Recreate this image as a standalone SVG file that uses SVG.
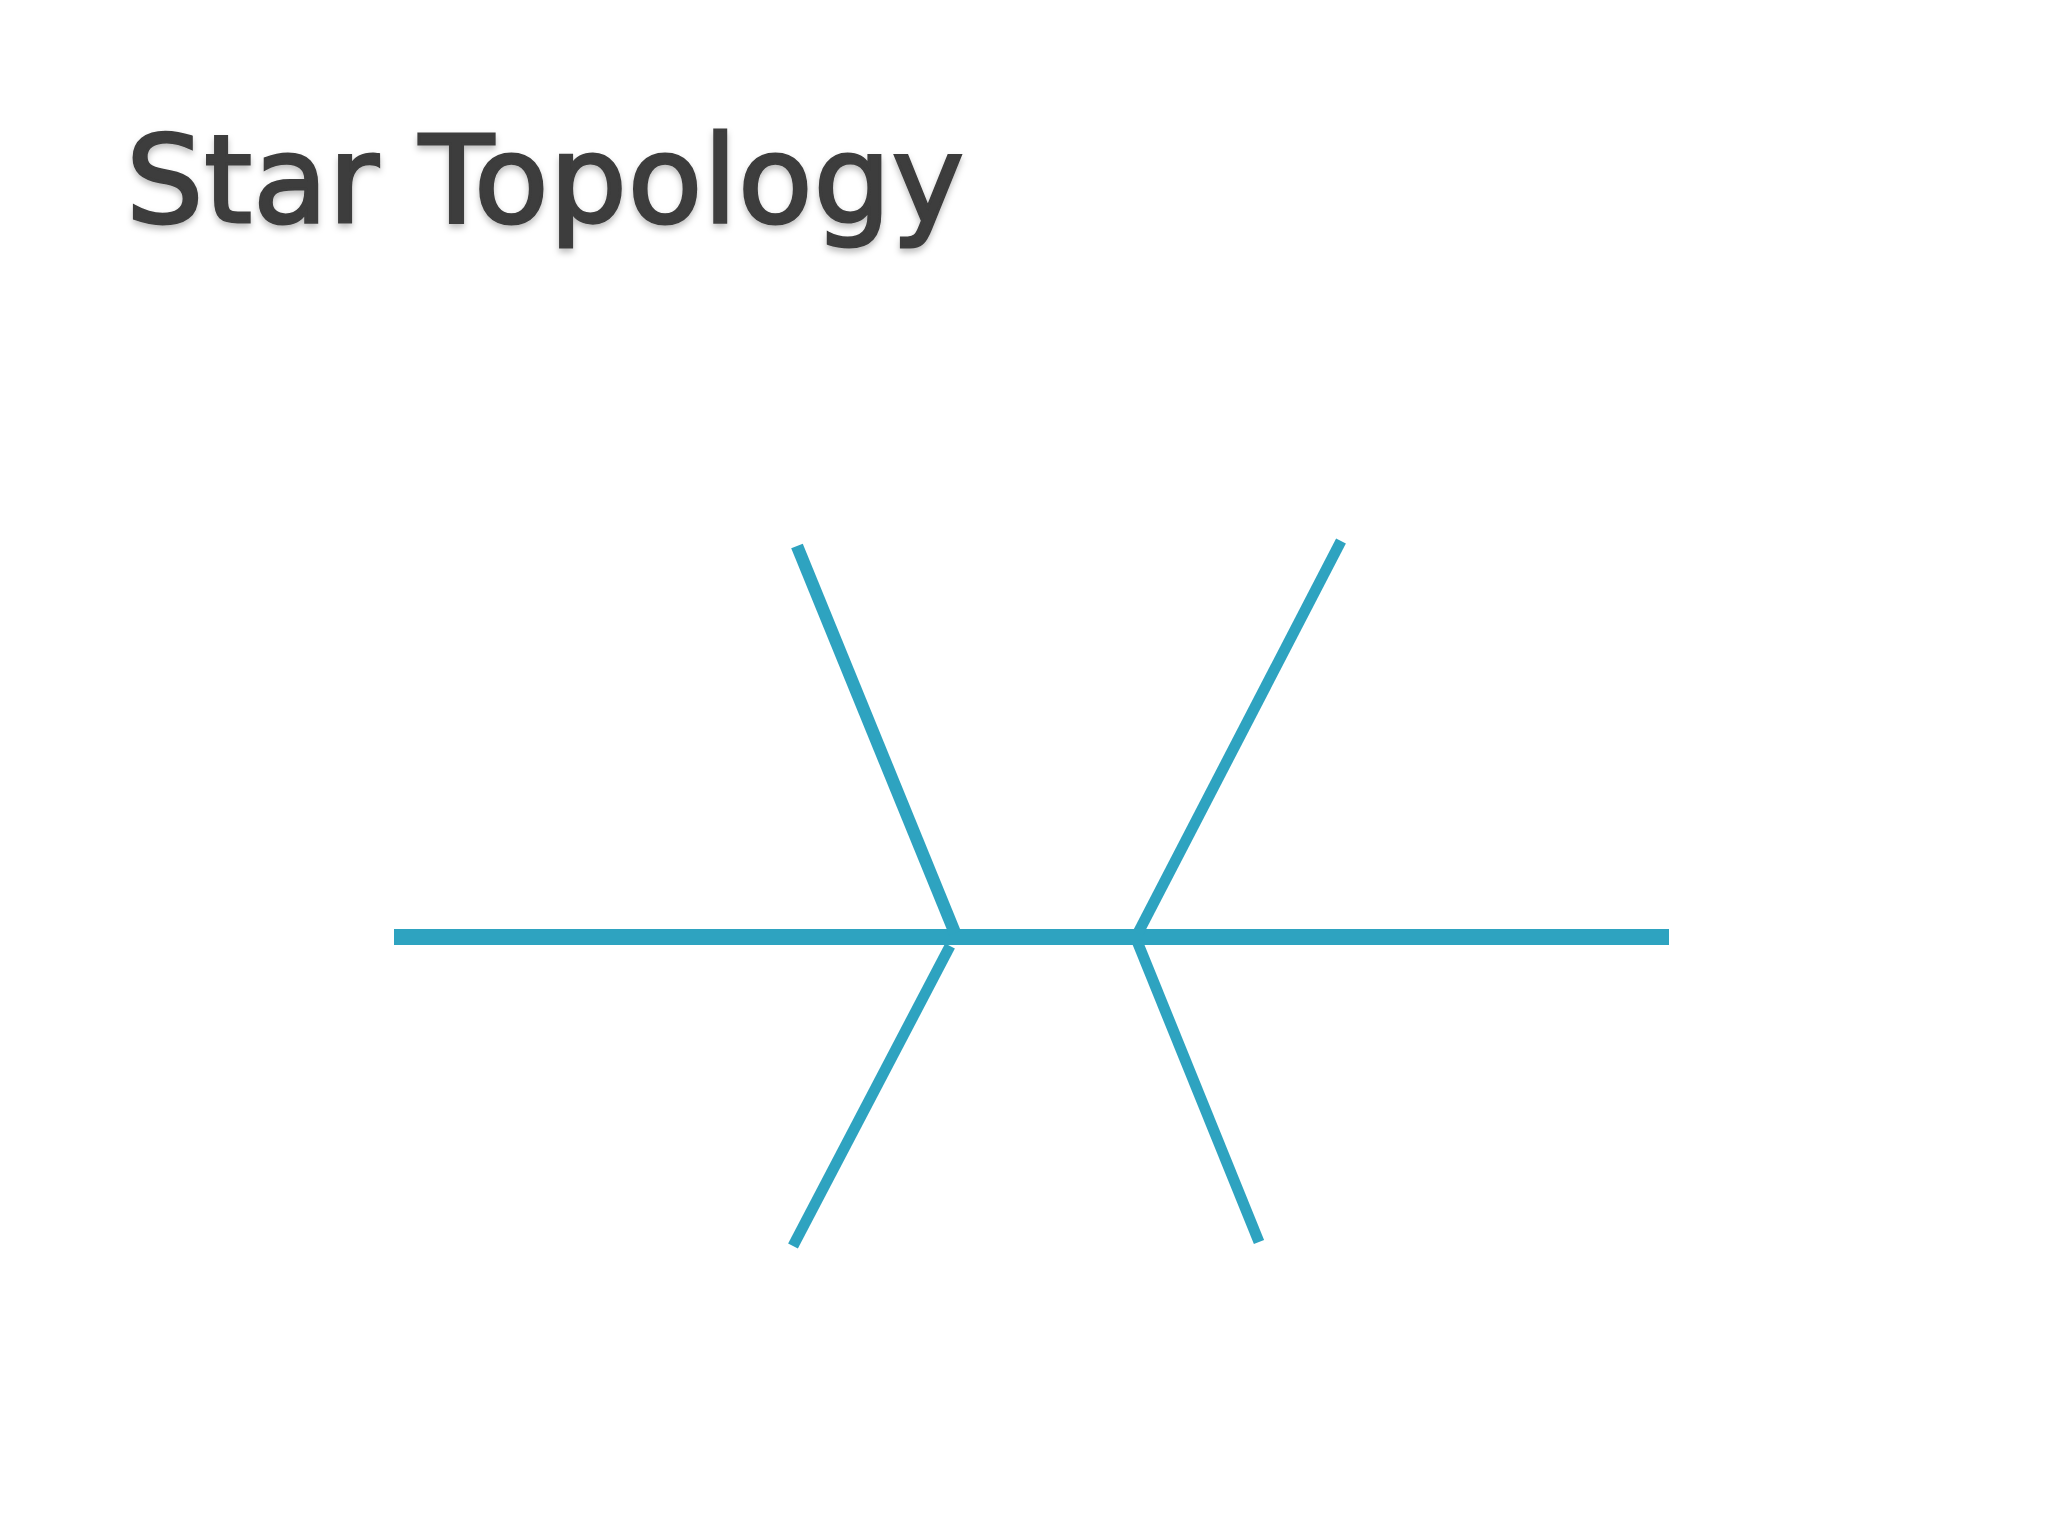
<svg xmlns="http://www.w3.org/2000/svg" width="2048" height="1536" viewBox="0 0 2048 1536">
  <defs>
    <filter id="shadow" x="-5%" y="-20%" width="110%" height="150%">
      <feDropShadow dx="0" dy="4" stdDeviation="3" flood-color="#000" flood-opacity="0.25"/>
    </filter>
    <style>
      .title { font-family: "DejaVu Sans", "Open Sans", sans-serif; font-size: 122px; fill: #3c3c3c; stroke: #3c3c3c; stroke-width: 3; }
      .bus { stroke: #2ea3c0; stroke-width: 16; stroke-linecap: butt; fill: none; }
      .spoke { stroke: #2ea3c0; stroke-width: 11; stroke-linecap: butt; fill: none; }
    </style>
  </defs>
  <rect width="2048" height="1536" fill="#ffffff"/>
  <g id="title">
    <text class="title" x="126" y="222" textLength="838" lengthAdjust="spacing" filter="url(#shadow)">Star Topology</text>
  </g>
  <g id="connectors">
    <line id="bus" class="bus" x1="394" y1="937" x2="1669" y2="937"/>
    <line id="spoke-upper-left" class="spoke" style="stroke-width:12.5" x1="797" y1="546" x2="955" y2="933"/>
    <line id="spoke-upper-right" class="spoke" x1="1341" y1="541" x2="1138" y2="933"/>
    <line id="spoke-lower-left" class="spoke" x1="950" y1="946" x2="793" y2="1246"/>
    <line id="spoke-lower-right" class="spoke" x1="1137" y1="941" x2="1259" y2="1242"/>
  </g>
</svg>
